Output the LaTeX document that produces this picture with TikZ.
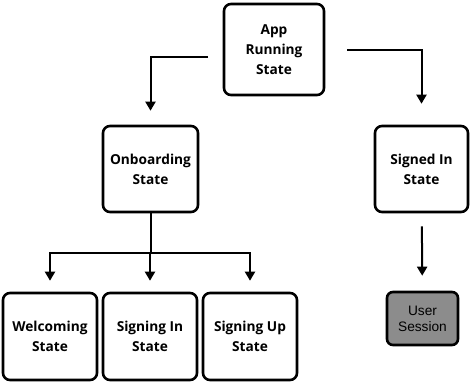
\documentclass[tikz,border=0pt]{standalone}
\usepackage{fontspec}
\setmainfont{Open Sans}
\newfontfamily\sessionfont{Liberation Sans}
\usepackage{tikz}
\usetikzlibrary{arrows.meta, positioning}

\begin{document}
\begin{tikzpicture}[x=1pt, y=-1pt, >={Triangle[length=9pt,width=10pt]},
    statebox/.style={draw, line width=2.6pt, rounded corners=7pt, align=center,
        font=\fontsize{13.7}{20}\selectfont\bfseries, fill=white},
    link/.style={line width=2pt}]
    \useasboundingbox (0,0) rectangle (474,383);

    % Trạng thái chính
    \node[statebox, minimum width=100pt, minimum height=91pt] (app) at (274,49.5) {App\\Running\\State};
    \node[statebox, minimum width=95pt, minimum height=86pt] (onb) at (150.5,169) {Onboarding\\State};
    \node[statebox, minimum width=93pt, minimum height=86pt] (sgn) at (421.5,169) {Signed In\\State};

    % Các trạng thái con
    \node[statebox, minimum width=94pt, minimum height=87pt] (wel) at (50,336.5) {Welcoming\\State};
    \node[statebox, minimum width=94pt, minimum height=87pt] (sin) at (150,336.5) {Signing In\\State};
    \node[statebox, minimum width=94pt, minimum height=87pt] (sup) at (250,336.5) {Signing Up\\State};
    \node[draw, line width=2.6pt, rounded corners=6pt, fill=black!45, align=center,
        minimum width=71pt, minimum height=53pt,
        font=\fontsize{13.7}{16}\selectfont\sessionfont] (usr) at (422.5,318.5) {User\\Session};

    % Mũi tên từ trạng thái chính
    \coordinate (appL) at (208,57);
    \coordinate (appR) at (347,50);
    \draw[link, ->, shorten >=14pt] (appL) -| (onb);
    \draw[link, ->, shorten >=21pt] (appR) -| (sgn);

    % Rẽ nhánh xuống các trạng thái con
    \coordinate (fork) at (150.5,253);
    \draw[link] (onb.south) -- (fork);
    \foreach \n in {wel, sin, sup} {
        \draw[link, ->, shorten >=11pt] (fork) -| (\n);
    }
    \draw[link, ->, shorten <=13pt, shorten >=15pt] (sgn) -- (usr);
\end{tikzpicture}
\end{document}
